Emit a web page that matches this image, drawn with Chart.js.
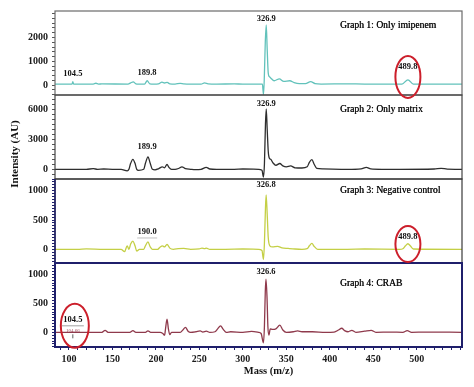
<!DOCTYPE html>
<html><head><meta charset="utf-8">
<script src="https://cdn.jsdelivr.net/npm/chart.js@4/dist/chart.umd.min.js"></script>
<style>html,body{margin:0;padding:0;background:#fff}canvas{display:block}</style>
</head><body>
<canvas id="c" width="474" height="387"></canvas>
<script>
// ---- data (m/z, intensity) ----
const mz1 = [84,100,103.6,104.5,105.4,128,131,134,138,168,171,174,177,180,187,190,193,198,203,207,210,213,216,222,228,232,240,252,256,260,270,290,300,318,322.5,323.7,324.6,325.8,326.9,328,329.2,330.5,332,336,342,347,354,359,365,372,378,383,390,420,440,483,489.8,496,552];
const int1 = [40,40,40,140,40,40,75,40,45,40,90,130,50,40,40,180,50,40,50,120,85,110,50,40,70,50,40,40,90,50,40,45,40,40,40,-400,200,1800,2530,1500,500,350,300,180,260,150,180,100,60,60,140,60,40,50,40,40,220,40,40];

const mz2 = [84,120,128,133,140,150,160,167,169,171,173.6,176,178,180,186,188,190.9,193.5,196,199,203,207.4,210,212.8,215,218,222,226,230,234,240,245,252,257.9,262,270,290,300,318,322,323.7,324.8,326,326.9,328,329.2,330.5,332,335,338,342.5,346,350,355,360,368,374,376.5,379.4,382,385,392,420,436,442,447,460,480,520,528,535,552];
const int2 = [0,0,60,0,30,0,0,-150,0,600,1000,600,0,-100,0,600,1250,600,0,-50,50,250,150,500,200,0,0,80,250,60,0,-40,0,200,30,0,0,30,0,-100,-770,500,4500,6050,4000,1800,1100,1000,600,400,580,350,250,340,150,130,250,700,960,500,100,50,0,50,200,40,0,0,30,100,20,0];

const mz3 = [84,110,120,140,160,164,167,169,171,173.6,176,178,181,186,188,190.9,193.5,196,202,205,207.4,210,212.8,216,220,226,232,240,250,253,256,258,262,280,300,318,322,323.7,324.8,326,326.8,328,329.2,331,334,340,345,352,360,368,374,376.5,379.4,382,386,420,440,480,484,487,489.8,492.5,496,552];
const int3 = [0,0,8,0,0,-40,60,0,90,140,60,-30,0,0,60,125,40,0,0,40,60,40,85,20,0,10,15,0,8,20,10,20,0,0,5,0,-20,-170,100,700,930,600,200,60,40,50,25,15,5,0,10,60,100,50,0,0,5,0,10,60,95,60,5,0];

const mz4 = [84,100,138,141.6,145,170,173.6,177,188,190.9,194,205,208,210,211,212.8,214.5,216,218,228,231,234,237,240,246,251,254,258,262,268,271,274.4,277.5,281,286,300,310,318,321,323.7,324.8,325.8,326.6,327.8,328.8,330,331.5,334,338,342.5,346,350,358,363,368,380,395,405,410,413.7,417,421,425.3,430,440,447.6,453,470,484,489,494,510,552];
const int4 = [0,0,0,35,0,0,30,0,0,25,0,0,-20,-50,50,225,50,-40,0,0,40,85,20,0,10,25,5,20,0,10,60,110,50,0,10,0,15,0,-20,-180,100,700,915,600,100,-50,60,50,60,125,40,0,10,25,10,10,0,5,40,70,30,10,35,0,20,35,0,5,0,30,0,5,0];

// ---- text ----
const panelTitles = ['Graph 1: Only imipenem','Graph 2: Only matrix','Graph 3: Negative control','Graph 4: CRAB'];
const peakLabels1 = ['104.5','189.8','326.9','489.8'];
const peakLabels2 = ['189.9','326.9'];
const peakLabels3 = ['190.0','326.8','489.8'];
const peakLabels4 = ['104.5','326.6'];
const circled1 = ['489.8'];
const circled3 = ['489.8'];
const circled4 = ['104.5'];
const xTickLabels = [100,150,200,250,300,350,400,450,500];
const yTickLabels1 = [0,1000,2000];
const yTickLabels2 = [0,3000,6000];
const yTickLabels3 = [0,500,1000];
const yTickLabels4 = [0,500,1000];
const xTitle = 'Mass (m/z)';
const yTitle = 'Intensity (AU)';

// ---- styles ----
const SERIF = "'Liberation Serif', 'DejaVu Serif', serif";
const NAVY = '#1f1f6b';
const lineColors = ['#62c2bb','#2e2e2e','#c4cf45','#8f3a4c'];
const frameColors = ['#6a6a6a','#444444','#3a3a3a',NAVY];
const labelOffsets = [[8,8,6,13],[10,5],[10,10,7],[13,7]];
const titleOffsets = [14,14,11,20];
const ellipseSizes = {y1:[12.5,21],y3:[12.5,18],y4:[14,22]};

function pts(mz, v){ return mz.map((m,i)=>({x:m,y:v[i]})); }

function yAxis(min,max,step,labels,tickColor){
  return {
    type:'linear', position:'left', stack:'panels', stackWeight:1, min:min, max:max,
    afterBuildTicks(s){ const t=[]; for(let v=Math.ceil(min/step)*step; v<=max; v+=step) t.push({value:v}); s.ticks=t; },
    afterFit(s){ s.width=55; },
    ticks:{ autoSkip:false, padding:4, color:'#1a1a1a', font:{family:SERIF,size:10,weight:'bold'},
      callback:(v)=> labels.includes(v) ? String(v) : '' },
    grid:{ drawOnChartArea:false, drawTicks:true, tickLength:3, tickColor:tickColor, tickWidth:1 },
    border:{ display:false }
  };
}

const panels = [
  {axis:'y1', mz:mz1, val:int1, labels:peakLabels1, circled:circled1},
  {axis:'y2', mz:mz2, val:int2, labels:peakLabels2, circled:[]},
  {axis:'y3', mz:mz3, val:int3, labels:peakLabels3, circled:circled3},
  {axis:'y4', mz:mz4, val:int4, labels:peakLabels4, circled:circled4}
];

function peakValue(p, m){
  let best = 0;
  p.mz.forEach((x,i)=>{ if (Math.abs(x-m) <= 2 && p.val[i] > best) best = p.val[i]; });
  return best;
}

const overlay = {
  id:'overlay',
  afterDatasetsDraw(chart){
    const {ctx, chartArea:ca, scales} = chart;
    const xs = scales.x;
    ctx.save();
    // frames
    panels.forEach((p,i)=>{
      const s = scales[p.axis];
      ctx.strokeStyle = frameColors[i];
      ctx.lineWidth = i===3 ? 2 : 1.2;
      ctx.strokeRect(ca.left, s.top, ca.right-ca.left, s.bottom-s.top);
      if (i===2){
        ctx.strokeStyle = NAVY; ctx.lineWidth = 1.5;
        ctx.beginPath(); ctx.moveTo(ca.left, s.top); ctx.lineTo(ca.left, s.bottom); ctx.stroke();
      }
    });
    // titles
    ctx.fillStyle = '#111';
    ctx.font = '9.6px ' + SERIF;
    ctx.textBaseline = 'middle';
    ctx.textAlign = 'left';
    panels.forEach((p,i)=>{
      const s = scales[p.axis];
      ctx.fillText(panelTitles[i], ca.left + (ca.right-ca.left)*0.70, s.top + titleOffsets[i]);
      ctx.fillText(panelTitles[i], ca.left + (ca.right-ca.left)*0.70 + 0.3, s.top + titleOffsets[i]);
    });
    // peak labels + circles
    panels.forEach((p,i)=>{
      const s = scales[p.axis];
      const base = s.getPixelForValue(0);
      p.labels.forEach((t,j)=>{
        const m = parseFloat(t);
        const x = xs.getPixelForValue(m);
        const py = s.getPixelForValue(peakValue(p,m));
        const ly = py - labelOffsets[i][j];
        ctx.fillStyle = '#111';
        ctx.font = 'bold 8.5px ' + SERIF;
        ctx.textAlign = 'center';
        ctx.fillText(t, x, ly);
        if (i===2 && j===0){
          ctx.strokeStyle = '#b0b0b0'; ctx.lineWidth = 0.8;
          ctx.beginPath(); ctx.moveTo(x-10, ly+6); ctx.lineTo(x+10, ly+6); ctx.stroke();
        }
        if (i===3 && j===0){
          ctx.strokeStyle = '#888'; ctx.lineWidth = 0.8;
          ctx.beginPath(); ctx.moveTo(x-11, ly+6.5); ctx.lineTo(x+11, ly+6.5); ctx.stroke();
          ctx.fillStyle = '#a04a5a'; ctx.font = '5px ' + SERIF;
          ctx.fillText('104.66', x, ly+11.5);
          ctx.strokeStyle = '#333'; ctx.lineWidth = 0.8;
          ctx.beginPath(); ctx.moveTo(x, base+2); ctx.lineTo(x, base+6); ctx.stroke();
        }
        if (p.circled.includes(t)){
          const [rx, ry] = ellipseSizes[p.axis];
          ctx.strokeStyle = '#cc1f2b'; ctx.lineWidth = 2;
          ctx.beginPath();
          ctx.ellipse(x + (i===3?2:0), (ly + base)/2 + (i===3?0:1), rx, ry, 0, 0, Math.PI*2);
          ctx.stroke();
        }
      });
    });
    // axis titles
    ctx.fillStyle = '#111';
    ctx.font = 'bold 10.5px ' + SERIF;
    ctx.textAlign = 'center';
    ctx.fillText(xTitle, (ca.left+ca.right)/2 + 10, ca.bottom + 24);
    ctx.save();
    ctx.translate(15, scales.y2.bottom - 25);
    ctx.rotate(-Math.PI/2);
    ctx.font = 'bold 11px ' + SERIF;
    ctx.fillText(yTitle, 0, 0);
    ctx.restore();
    ctx.restore();
  }
};

const ds = (p,i)=>({
  data: pts(p.mz, p.val), yAxisID: p.axis, borderColor: lineColors[i], backgroundColor: lineColors[i],
  borderWidth: 1.3, pointRadius: 0, cubicInterpolationMode: 'monotone', fill: false
});

new Chart(document.getElementById('c'), {
  type: 'line',
  data: { datasets: panels.map(ds) },
  options: {
    responsive: false, animation: false, events: [],
    layout: { padding: { top: 11, right: 12, left: 0, bottom: 0 } },
    plugins: { legend: { display: false }, tooltip: { enabled: false } },
    scales: {
      x: {
        type: 'linear', min: 84, max: 552,
        afterBuildTicks(s){ const t=[]; for(let v=90; v<=550; v+=10) t.push({value:v}); s.ticks=t; },
        afterFit(s){ s.height = 40; },
        ticks: { autoSkip:false, maxRotation:0, padding:3, color:'#1a1a1a', font:{family:SERIF,size:10,weight:'bold'},
          callback:(v)=> xTickLabels.includes(v) ? String(v) : '' },
        grid: { drawOnChartArea:false, tickLength:3, tickColor:NAVY },
        border: { display:false }
      },
      y4: yAxis(-253, 1195, 50, yTickLabels4, NAVY),
      y3: yAxis(-234, 1200, 50, yTickLabels3, NAVY),
      y2: yAxis(-970, 7430, 500, yTickLabels2, '#555'),
      y1: yAxis(-420, 3115, 200, yTickLabels1, '#555')
    }
  },
  plugins: [overlay]
});
</script>
</body></html>
